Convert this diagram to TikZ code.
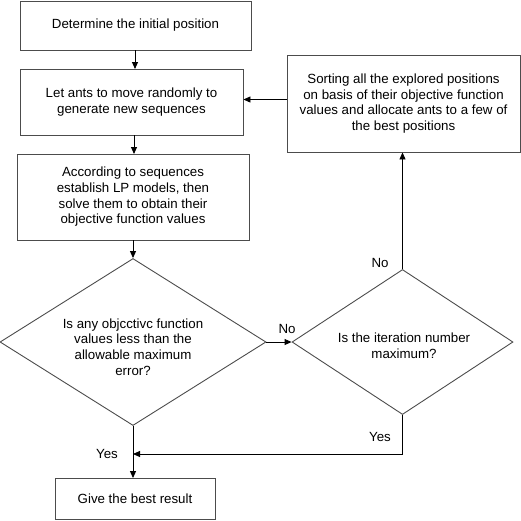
\documentclass[tikz,border=0pt]{standalone}
\usepackage{fontspec}
\setmainfont{Liberation Sans}
\usetikzlibrary{shapes.geometric,arrows.meta}
\begin{document}
\begin{tikzpicture}[x=1pt,y=-1pt,
  font=\fontsize{13.3}{15.7}\selectfont,
  box/.style={draw=black!70,line width=0.9pt,align=center,inner sep=0pt},
  dia/.style={draw=black!70,line width=0.9pt,shape=diamond,align=center,inner sep=0pt},
  arr/.style={draw=black,line width=0.9pt,-{Triangle[length=7pt,width=6pt]}},
  ln/.style={draw=black,line width=0.9pt},
  lab/.style={inner sep=0pt}]
\useasboundingbox (0,0) rectangle (521,520);
\node[box,minimum width=231pt,minimum height=49pt] (b1) at (135.5,25.5) {Determine the initial position};
\node[box,minimum width=223pt,minimum height=66pt] (b2) at (131.5,102) {Let ants to move randomly to\\generate new sequences};
\node[box,minimum width=232pt,minimum height=86pt] (b3) at (133,197) {According to sequences\\establish LP models, then\\solve them to obtain their\\objective function values};
\node[box,minimum width=233pt,minimum height=97pt] (s) at (403.5,103.5) {Sorting all the explored positions\\on basis of their objective function\\values and allocate ants to a few of\\the best positions};
\node[dia,aspect=1.593,minimum width=266pt,minimum height=167pt] (d1) at (133,342) {};
\node[lab,align=center] (t1) at (133,347) {Is any objcctivc function\\values less than the\\allowable maximum\\error?};
\node[dia,aspect=1.524,minimum width=221pt,minimum height=145pt] (d2) at (402.5,342) {};
\node[lab,align=center] (t2) at (404,345.5) {Is the iteration number\\maximum?};
\node[box,minimum width=160pt,minimum height=41pt] (b4) at (135,499) {Give the best result};
\coordinate (m) at (133,454);
\draw[arr] (135,50) -- (135,69);
\draw[arr] (134,135) -- (134,154);
\draw[arr] (133,240) -- (d1.north);
\draw[arr] (d1.east) -- (d2.west);
\draw[arr] (d2.north) -- (d2.north |- s.south);
\draw[arr] (s.west |- 0,99.5) -- (b2.east |- 0,99.5);
\draw[ln] (d1.south) -- (m);
\draw[arr] (m) -- (b4.north -| m);
\draw[arr] (d2.south) |- (m);
\node[lab] (no1) at (380,263) {No};
\node[lab] (no2) at (287,329) {No};
\node[lab] (yes1) at (380,437) {Yes};
\node[lab] (yes2) at (107,454) {Yes};
\end{tikzpicture}
\end{document}
